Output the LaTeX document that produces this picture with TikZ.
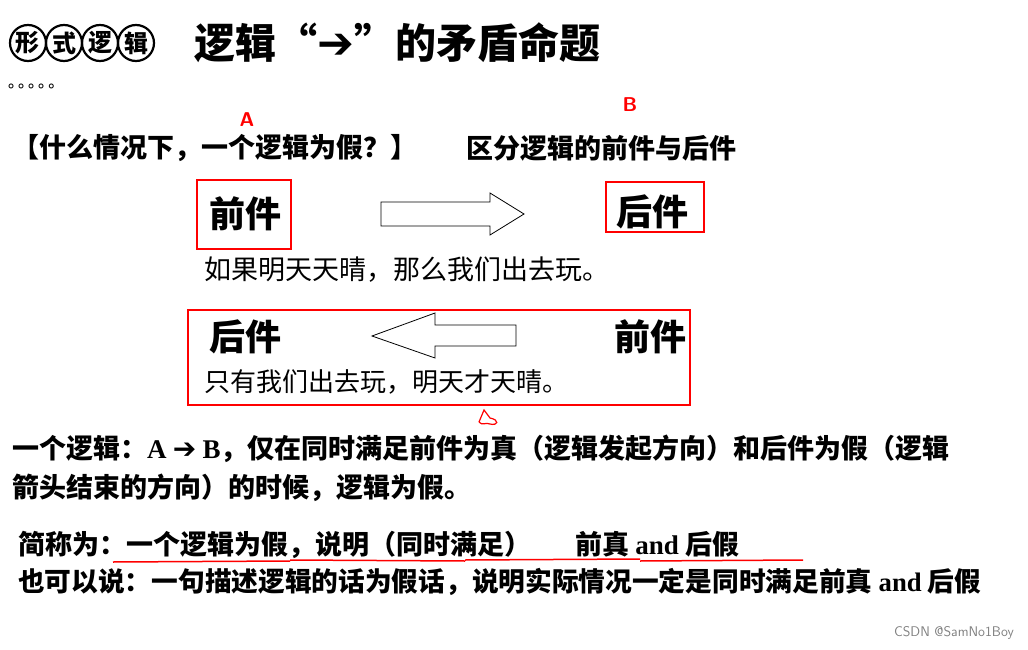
\documentclass[tikz,border=0pt]{standalone}
\usepackage{fontspec}
\setmainfont{Noto Sans CJK SC}
\newfontfamily\cjkb{Noto Sans CJK SC Black}
\newfontfamily\sym{DejaVu Sans}
\newfontfamily\lat{Liberation Serif}
\newcommand{\fsz}[1]{\fontsize{#1}{#1}\selectfont}
\begin{document}
\begin{tikzpicture}[x=1pt,y=-1pt,
  txt/.style={anchor=west,inner sep=0,font=\cjkb\fsz{27}},
  big/.style={inner sep=0,font=\cjkb\fsz{36}},
  plain/.style={anchor=west,inner sep=0,font=\fsz{27}},
  redbox/.style={draw=red,line width=2.5pt},
  blockarrow/.style={draw=black,line width=0.8pt,fill=white},
  lbl/.style={text=red,inner sep=0,font=\bfseries\sffamily\fsz{20}}]
\useasboundingbox (0,0) rectangle (1028,650);
% title
\foreach \c/\x/\n in {形/28/t1,式/64/t2,逻/100/t3,辑/136/t4}
  \node[draw,circle,line width=2.2pt,minimum size=36pt,inner sep=0,font=\cjkb\fsz{24}] (\n) at (\x,43) {\c};
\node[txt,font=\cjkb\fsz{41}] (title) at (194,43) {逻辑“{\sym\fsz{44}➔}”的矛盾命题};
\node[anchor=west,inner sep=0,font=\sym\fsz{16}] (dots) at (6,88) {∘∘∘∘∘};
% labels
\node[lbl] (A) at (247,120) {A};
\node[lbl] (B) at (630,105) {B};
\node[txt] (q) at (12,148) {【什么情况下，一个逻辑为假？】};
\node[txt] (dist) at (466,148) {区分逻辑的前件与后件};
% first example
\draw[redbox] (197,180) rectangle (291,249);
\node[big] (pre1) at (245,214) {前件};
\draw[redbox] (606,182) rectangle (704,232);
\node[big] (post1) at (652,212) {后件};
\draw[blockarrow] (381,202) -- (490,202) -- (490,193) -- (524,214) -- (490,235) -- (490,226) -- (381,226) -- cycle;
\node[plain] (s1) at (204,270) {如果明天天晴，那么我们出去玩。};
% second example
\draw[redbox] (188,310) rectangle (690,405);
\node[big] (post2) at (245,337) {后件};
\node[big] (pre2) at (650,337) {前件};
\draw[blockarrow] (516,325) -- (435,325) -- (435,313) -- (372,336) -- (435,358) -- (435,346) -- (516,346) -- cycle;
\node[plain,font=\fsz{26}] (s2) at (204,382) {只有我们出去玩，明天才天晴。};
\draw[red,line width=1.2pt] (479,422) -- (484,410) -- (490,418) .. controls (500,420) and (498,426) .. (490,424) .. controls (486,422) and (482,426) .. (479,422);
% paragraph
\node[txt] (p1) at (12,449) {一个逻辑：{\lat\bfseries A} {\sym\fsz{28}➔} {\lat\bfseries B}，仅在同时满足前件为真（逻辑发起方向）和后件为假（逻辑};
\node[txt] (p2) at (12,488) {箭头结束的方向）的时候，逻辑为假。};
\node[txt] (p3) at (18,545) {简称为：一个逻辑为假，说明（同时满足）\hspace{44pt}前真 {\lat\bfseries and} 后假};
\draw[red,line width=1.5pt] (113,562) -- (290,561) (290,560) -- (465,561) (465,560) -- (640,559) (640,561) -- (803,560);
\node[txt,font=\cjkb\fsz{26.7}] (p4) at (18,582) {也可以说：一句描述逻辑的话为假话，说明实际情况一定是同时满足前真 {\lat\bfseries and} 后假};
\node[anchor=east,inner sep=0,text=gray,font=\sffamily\fsz{14}] (wm) at (1014,633) {CSDN @SamNo1Boy};
\end{tikzpicture}
\end{document}
